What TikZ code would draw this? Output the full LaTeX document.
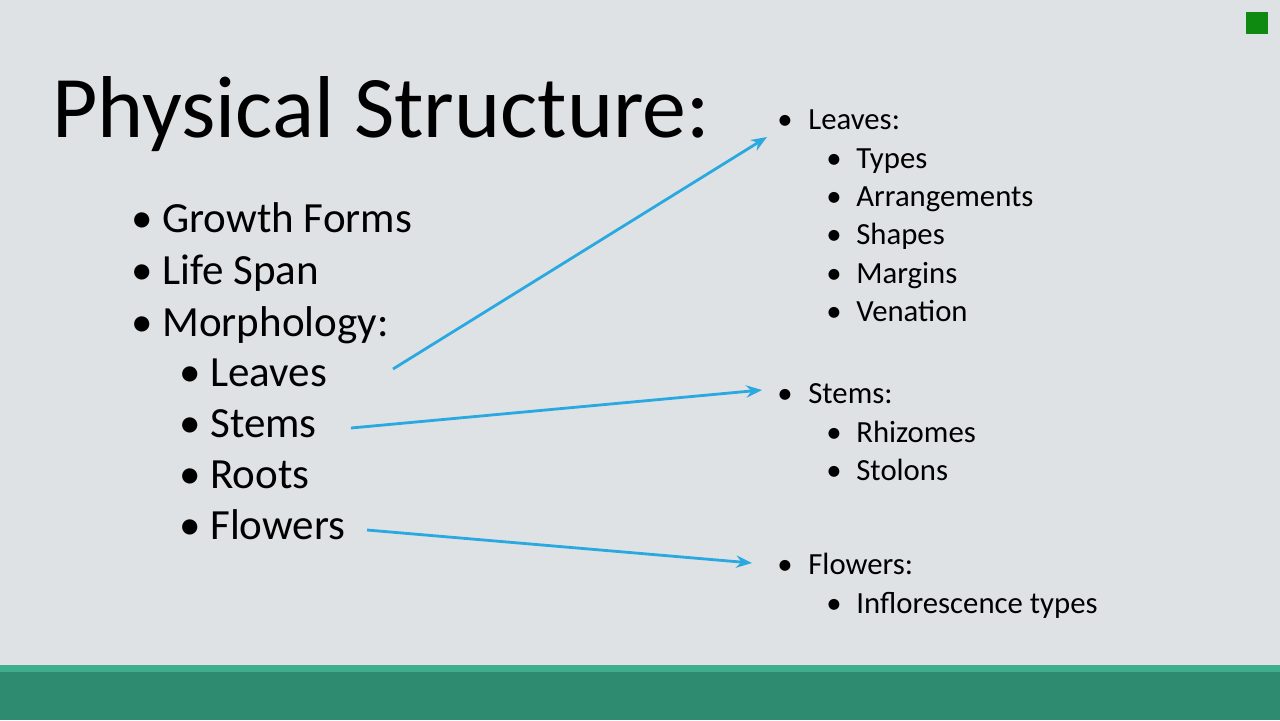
\documentclass[tikz,border=0pt]{standalone}
\usepackage{fontspec}
\setmainfont{Carlito}
\usetikzlibrary{arrows.meta}
\definecolor{bg}{HTML}{DEE2E5}
\definecolor{arr}{HTML}{29A9E0}
\definecolor{barlight}{HTML}{3FAE8D}
\definecolor{bardark}{HTML}{2E8B6F}
\definecolor{sq}{HTML}{0E8A10}
\tikzset{
 t1/.style={anchor=base west,inner sep=0,font=\fontsize{24.5}{26}\selectfont},
 t2/.style={anchor=base west,inner sep=0,font=\fontsize{17.5}{19}\selectfont},
 arw/.style={arr,line width=1.6pt,-{Stealth[length=9pt,width=7pt]}}
}
\begin{document}
\begin{tikzpicture}[x=0.02cm,y=-0.02cm]
\fill[bg] (0,0) rectangle (1280,720);
\useasboundingbox (0,0) rectangle (1280,720);
\fill[barlight] (0,665) rectangle (1280,672);
\fill[bardark] (0,672) rectangle (1280,720);
\fill[sq] (1246,12) rectangle (1268,34);
\node[anchor=base west,inner sep=0,font=\fontsize{50}{52}\selectfont] (title) at (52,137) {Physical Structure:};
% left list
\foreach \y/\t/\n in {232/Growth Forms/gf,284/Life Span/ls,336/Morphology:/mo}{
 \node[t1] (b\n) at (131,\y) {•};
 \node[t1] (\n) at (162,\y) {\t};
}
\foreach \y/\t/\n in {386/Leaves/le,437/Stems/st,488/Roots/ro,539/Flowers/fl}{
 \node[t1] (b\n) at (179,\y) {•};
 \node[t1] (\n) at (210,\y) {\t};
}
% right list
\foreach \y/\t/\n in {129/Leaves:/rle,403/Stems:/rst,574/Flowers:/rfl}{
 \node[t2] (b\n) at (777,\y) {•};
 \node[t2] (\n) at (808,\y) {\t};
}
\foreach \y/\t/\n in {168/Types/a,206/Arrangements/b,244/Shapes/c,283/Margins/d,321/Venation/e,442/Rhizomes/f,480/Stolons/g,613/Inflorescence types/h}{
 \node[t2] (b\n) at (826,\y) {•};
 \node[t2] (\n) at (856,\y) {\t};
}
\coordinate (s1) at (393,369); \coordinate (e1) at (767,137);
\coordinate (s2) at (351,428); \coordinate (e2) at (762,390);
\coordinate (s3) at (367,530); \coordinate (e3) at (752,563);
\draw[arw] (s1) -- (e1);
\draw[arw] (s2) -- (e2);
\draw[arw] (s3) -- (e3);
\end{tikzpicture}
\end{document}
